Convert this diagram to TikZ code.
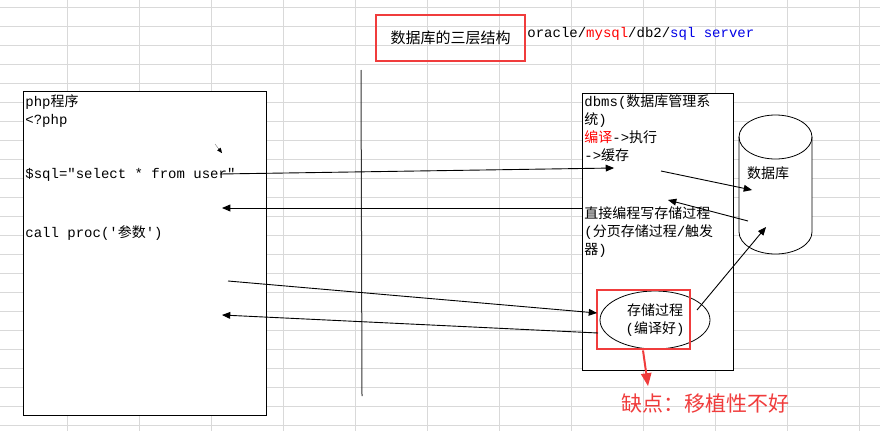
\documentclass[tikz,border=0pt]{standalone}
\usepackage{fontspec}
\setmainfont{Noto Sans CJK SC}
\setmonofont{Liberation Mono}
\usetikzlibrary{positioning}
\usetikzlibrary{shapes,arrows}
\newcommand{\mt}[1]{{\ttfamily #1}}
\definecolor{boxred}{RGB}{240,60,60}
\definecolor{sqlblue}{RGB}{0,0,230}
\begin{document}
\begin{tikzpicture}[x=1pt,y=-1pt,font=\fontsize{14}{18}\selectfont,line width=0.8pt,
	txt/.style={anchor=north west,inner sep=0pt,align=left},
	flow/.style={draw,-triangle 45,line width=0.9pt},
	redbox/.style={draw=boxred,line width=2.4pt}]
	\useasboundingbox (0,0) rectangle (880,431);
	% grid of the sheet
	\foreach \gx in {67.5,139.5,...,860} \draw[gray!30,line width=0.8pt] (\gx,0) -- (\gx,431);
	\foreach \gy in {7.5,26.5,...,431} \draw[gray!30,line width=0.8pt] (0,\gy) -- (880,\gy);

	\node[redbox,minimum width=149,minimum height=46,anchor=north west] (title) at (375,14) {};
	\node[font=\fontsize{15}{18}\selectfont] (titletxt) at (title.center) {数据库的三层结构};
	\node[anchor=west,inner sep=0pt] (vendors) at (527,34) {\mt{oracle/\textcolor{red}{mysql}/db2/\textcolor{sqlblue}{sql server}}};

	\coordinate (top) at (361,70);
	\coordinate (bottom) at (362,396);
	\draw[line width=1pt,black!80] (top) -- (bottom);

	% php side
	\node[draw,fill=white,minimum width=243,minimum height=324,anchor=north west] (php) at (23,91) {};
	\node[txt] (phpname) at (25,94) {\mt{php}程序\\\mt{<?php}};
	\node[txt] (sql) at (25,168) {\mt{\$sql="select * from user"}};
	\node[txt] (call) at (25,225) {\mt{call proc('}参数\mt{')}};

	% dbms side
	\node[draw,fill=white,minimum width=151,minimum height=277,anchor=north west] (dbms) at (582,93) {};
	\node[txt] (dbmstxt) at (584,94) {\mt{dbms(}数据库管理系\\统\mt{)}\\\textcolor{red}{编译}\mt{->}执行\\\mt{->}缓存};
	\node[txt] (direct) at (584,206) {直接编程写存储过程\\\mt{(}分页存储过程\mt{/}触发\\器\mt{)}};

	% database cylinder
	\node[minimum width=73,minimum height=139,inner sep=0pt] (db) at (775.5,184.5) {};
	\draw[fill=white] (739,137) -- (739,232) arc[start angle=180,end angle=0,x radius=36.5,y radius=22] -- (812,137) arc[start angle=0,end angle=-180,x radius=36.5,y radius=22] -- cycle;
	\draw (739,137) arc[start angle=180,end angle=0,x radius=36.5,y radius=22];
	\node (dbtxt) at (768,173) {数据库};

	\node[draw,ellipse,minimum width=110,minimum height=58,align=center,inner sep=0pt] (proc) at (655,320) {存储过程\\\mt{(}编译好\mt{)}};
	\node[redbox,minimum width=93,minimum height=59,anchor=north west] (procbox) at (596,289) {};
	\node[text=boxred,font=\fontsize{21}{24}\selectfont,anchor=west] (flaw) at (618,404) {缺点：移植性不好};
	\draw[boxred,line width=2pt,-triangle 45] (procbox.south -| 643,0) -- (648,386);

	% connectors
	\coordinate (a1) at (220,174); \coordinate (a2) at (614,168);
	\coordinate (b1) at (661,171); \coordinate (b2) at (752,190);
	\coordinate (c1) at (748,221); \coordinate (c2) at (668,200);
	\coordinate (d1) at (583,208); \coordinate (d2) at (222,208);
	\coordinate (e1) at (228,281); \coordinate (e2) at (597,313);
	\coordinate (f1) at (598,333); \coordinate (f2) at (222,315);
	\coordinate (g1) at (697,310); \coordinate (g2) at (766,227);
	\coordinate (s1) at (215,144); \coordinate (s2) at (222,153);
	\path[flow] (a1) -- (a2);
	\path[flow] (b1) -- (b2);
	\path[flow] (c1) -- (c2);
	\path[flow] (d1) -- (d2);
	\path[flow] (e1) -- (e2);
	\path[flow] (f1) -- (f2);
	\path[flow] (g1) -- (g2);
	\path[flow,line width=0.1pt] (s1) -- (s2);
\end{tikzpicture}
\end{document}
